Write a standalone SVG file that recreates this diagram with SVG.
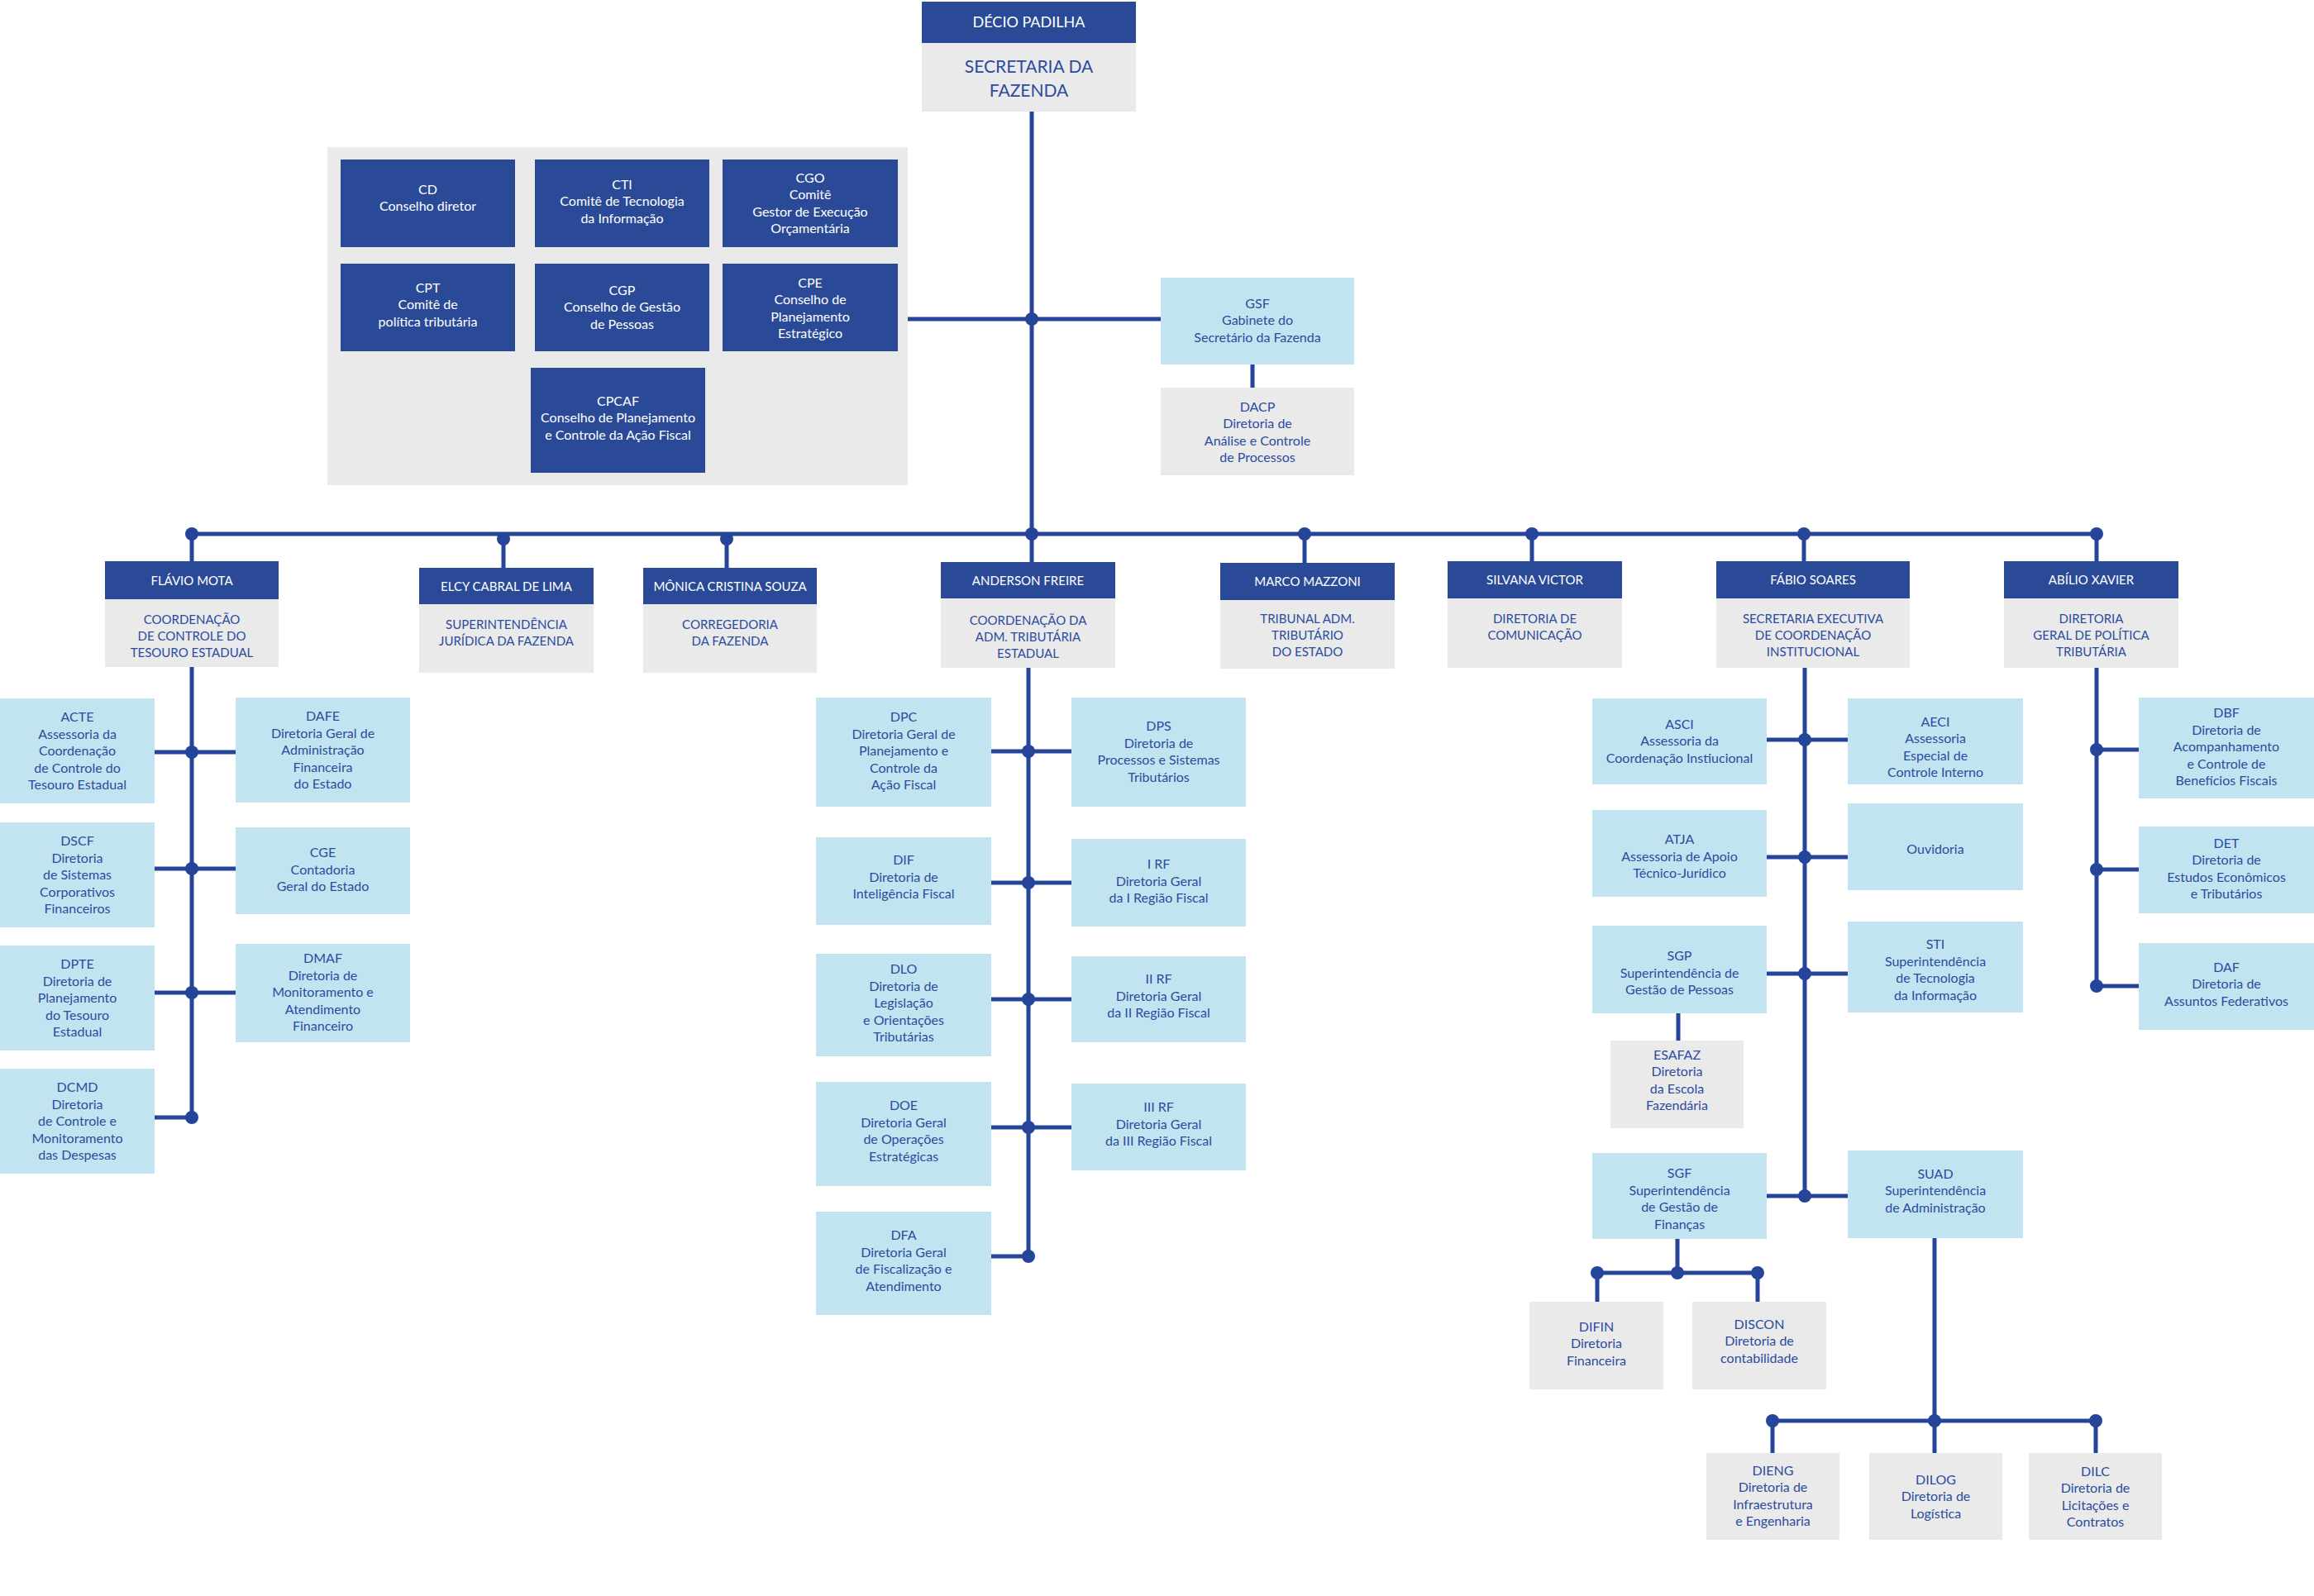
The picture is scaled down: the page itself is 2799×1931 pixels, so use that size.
<svg xmlns="http://www.w3.org/2000/svg" width="2799" height="1931" viewBox="0 0 2799 1931">
<style>
.dk{fill:#2A4A97}
.lt{fill:#C2E4F0}
.gr{fill:#EAEAEA}
text{font-family:Lato,"Open Sans",sans-serif;text-anchor:middle}
.w{fill:#FFFFFF;font-size:16px}
.t{fill:#2B4C9F;font-size:16px}
.hw{fill:#FFFFFF;font-size:15px}
.ht{fill:#2B4C9F;font-size:15px}
.ln{stroke:#25459A;stroke-width:5;fill:none}
.dot{fill:#25459A}
</style>
<rect width="2799" height="1931" fill="#FFFFFF"/>

<g id="connectors">
<path class="ln" d="M1248 135 V646 M1098 386 H1404 M1515 441 V469"/>
<path class="ln" d="M232 646 H2536"/>
<path class="ln" d="M232 646 V679 M609 652 V687 M879 652 V687 M1248 646 V680 M1578 646 V681 M1853 646 V679 M2182 646 V679 M2536 646 V679"/>
<path class="ln" d="M232 807 V1352 M187 910 H285 M187 1051 H285 M187 1201 H285 M187 1352 H232"/>
<path class="ln" d="M1244 808 V1520 M1199 909 H1296 M1199 1068 H1296 M1199 1209 H1296 M1199 1364 H1296 M1199 1520 H1244"/>
<path class="ln" d="M2183 808 V1447 M2137 895 H2235 M2137 1037 H2235 M2137 1178 H2235 M2137 1447 H2235 M2030 1226 V1259"/>
<path class="ln" d="M2029 1499 V1540 M1932 1540 H2126 M1932 1540 V1575 M2126 1540 V1575"/>
<path class="ln" d="M2340 1498 V1719 M2144 1719 H2535 M2144 1719 V1758 M2340 1719 V1758 M2535 1719 V1758"/>
<path class="ln" d="M2536 808 V1193 M2536 907 H2587 M2536 1052 H2587 M2536 1193 H2587"/>
<g class="dot">
<circle cx="1248" cy="386" r="8"/>
<circle cx="232" cy="646" r="8"/><circle cx="609" cy="652" r="8"/><circle cx="879" cy="652" r="8"/><circle cx="1248" cy="646" r="8"/><circle cx="1578" cy="646" r="8"/><circle cx="1853" cy="646" r="8"/><circle cx="2182" cy="646" r="8"/><circle cx="2536" cy="646" r="8"/>
<circle cx="232" cy="910" r="8"/><circle cx="232" cy="1051" r="8"/><circle cx="232" cy="1201" r="8"/><circle cx="232" cy="1352" r="8"/>
<circle cx="1244" cy="909" r="8"/><circle cx="1244" cy="1068" r="8"/><circle cx="1244" cy="1209" r="8"/><circle cx="1244" cy="1364" r="8"/><circle cx="1244" cy="1520" r="8"/>
<circle cx="2183" cy="895" r="8"/><circle cx="2183" cy="1037" r="8"/><circle cx="2183" cy="1178" r="8"/><circle cx="2183" cy="1447" r="8"/>
<circle cx="1932" cy="1540" r="8"/><circle cx="2029" cy="1540" r="8"/><circle cx="2126" cy="1540" r="8"/>
<circle cx="2144" cy="1719" r="8"/><circle cx="2340" cy="1719" r="8"/><circle cx="2535" cy="1719" r="8"/>
<circle cx="2536" cy="907" r="8"/><circle cx="2536" cy="1052" r="8"/><circle cx="2536" cy="1193" r="8"/>
</g>
</g>

<g id="decio">
<rect class="dk" x="1115" y="2" width="259" height="50"/>
<rect class="gr" x="1115" y="52" width="259" height="83"/>
<text class="w" x="1244.5" y="33" style="font-size:18px">DÉCIO PADILHA</text>
<text class="t" x="1244.5" y="87.5" style="font-size:21px">SECRETARIA DA<tspan x="1244.5" dy="29">FAZENDA</tspan></text>
</g>

<g id="comites">
<rect class="gr" x="396" y="178" width="702" height="409"/>
<g id="cd"><rect class="dk" x="412" y="193" width="211" height="106"/><text class="w" x="517.5" y="234.5">CD<tspan x="517.5" dy="20.5">Conselho diretor</tspan></text></g>
<g id="cti"><rect class="dk" x="647" y="193" width="211" height="106"/><text class="w" x="752.5" y="228.5">CTI<tspan x="752.5" dy="20.5">Comitê de Tecnologia</tspan><tspan x="752.5" dy="20.5">da Informação</tspan></text></g>
<g id="cgo"><rect class="dk" x="874" y="193" width="212" height="106"/><text class="w" x="980" y="220.5">CGO<tspan x="980" dy="20.5">Comitê</tspan><tspan x="980" dy="20.5">Gestor de Execução</tspan><tspan x="980" dy="20.5">Orçamentária</tspan></text></g>
<g id="cpt"><rect class="dk" x="412" y="319" width="211" height="106"/><text class="w" x="517.5" y="353.5">CPT<tspan x="517.5" dy="20.5">Comitê de</tspan><tspan x="517.5" dy="20.5">política tributária</tspan></text></g>
<g id="cgp"><rect class="dk" x="647" y="319" width="211" height="106"/><text class="w" x="752.5" y="356.5">CGP<tspan x="752.5" dy="20.5">Conselho de Gestão</tspan><tspan x="752.5" dy="20.5">de Pessoas</tspan></text></g>
<g id="cpe"><rect class="dk" x="874" y="319" width="212" height="106"/><text class="w" x="980" y="347.5">CPE<tspan x="980" dy="20.5">Conselho de</tspan><tspan x="980" dy="20.5">Planejamento</tspan><tspan x="980" dy="20.5">Estratégico</tspan></text></g>
<g id="cpcaf"><rect class="dk" x="642" y="445" width="211" height="127"/><text class="w" x="747.5" y="490.5">CPCAF<tspan x="747.5" dy="20.5">Conselho de Planejamento</tspan><tspan x="747.5" dy="20.5">e Controle da Ação Fiscal</tspan></text></g>
</g>

<g id="gsf"><rect class="lt" x="1404" y="336" width="234" height="105"/><text class="t" x="1521" y="372.5">GSF<tspan x="1521" dy="20.5">Gabinete do</tspan><tspan x="1521" dy="20.5">Secretário da Fazenda</tspan></text></g>
<g id="dacp"><rect class="gr" x="1404" y="469" width="234" height="106"/><text class="t" x="1521" y="497.5">DACP<tspan x="1521" dy="20.5">Diretoria de</tspan><tspan x="1521" dy="20.5">Análise e Controle</tspan><tspan x="1521" dy="20.5">de Processos</tspan></text></g>

<g id="flavio"><rect class="dk" x="127" y="679" width="210" height="46"/><rect class="gr" x="127" y="725" width="210" height="82"/><text class="hw" x="232" y="707.5">FLÁVIO MOTA</text><text class="ht" x="232" y="754.5">COORDENAÇÃO<tspan x="232" dy="20">DE CONTROLE DO</tspan><tspan x="232" dy="20">TESOURO ESTADUAL</tspan></text></g>
<g id="elcy"><rect class="dk" x="507" y="687" width="211" height="44"/><rect class="gr" x="507" y="731" width="211" height="83"/><text class="hw" x="612.5" y="714.5">ELCY CABRAL DE LIMA</text><text class="ht" x="612.5" y="760.5">SUPERINTENDÊNCIA<tspan x="612.5" dy="20">JURÍDICA DA FAZENDA</tspan></text></g>
<g id="monica"><rect class="dk" x="778" y="687" width="210" height="44"/><rect class="gr" x="778" y="731" width="210" height="83"/><text class="hw" x="883" y="714.5">MÔNICA CRISTINA SOUZA</text><text class="ht" x="883" y="760.5">CORREGEDORIA<tspan x="883" dy="20">DA FAZENDA</tspan></text></g>
<g id="anderson"><rect class="dk" x="1138" y="680" width="211" height="44"/><rect class="gr" x="1138" y="724" width="211" height="84"/><text class="hw" x="1243.5" y="707.5">ANDERSON FREIRE</text><text class="ht" x="1243.5" y="755.5">COORDENAÇÃO DA<tspan x="1243.5" dy="20">ADM. TRIBUTÁRIA</tspan><tspan x="1243.5" dy="20">ESTADUAL</tspan></text></g>
<g id="marco"><rect class="dk" x="1476" y="681" width="211" height="45"/><rect class="gr" x="1476" y="726" width="211" height="83"/><text class="hw" x="1581.5" y="709">MARCO MAZZONI</text><text class="ht" x="1581.5" y="753.5">TRIBUNAL ADM.<tspan x="1581.5" dy="20">TRIBUTÁRIO</tspan><tspan x="1581.5" dy="20">DO ESTADO</tspan></text></g>
<g id="silvana"><rect class="dk" x="1751" y="679" width="211" height="45"/><rect class="gr" x="1751" y="724" width="211" height="84"/><text class="hw" x="1856.5" y="707">SILVANA VICTOR</text><text class="ht" x="1856.5" y="753.5">DIRETORIA DE<tspan x="1856.5" dy="20">COMUNICAÇÃO</tspan></text></g>
<g id="fabio"><rect class="dk" x="2076" y="679" width="234" height="45"/><rect class="gr" x="2076" y="724" width="234" height="84"/><text class="hw" x="2193" y="707">FÁBIO SOARES</text><text class="ht" x="2193" y="753.5">SECRETARIA EXECUTIVA<tspan x="2193" dy="20">DE COORDENAÇÃO</tspan><tspan x="2193" dy="20">INSTITUCIONAL</tspan></text></g>
<g id="abilio"><rect class="dk" x="2424" y="679" width="211" height="45"/><rect class="gr" x="2424" y="724" width="211" height="84"/><text class="hw" x="2529.5" y="707">ABÍLIO XAVIER</text><text class="ht" x="2529.5" y="753.5">DIRETORIA<tspan x="2529.5" dy="20">GERAL DE POLÍTICA</tspan><tspan x="2529.5" dy="20">TRIBUTÁRIA</tspan></text></g>

<g id="acte"><rect class="lt" x="0" y="845" width="187" height="127"/><text class="t" x="93.5" y="873">ACTE<tspan x="93.5" dy="20.5">Assessoria da</tspan><tspan x="93.5" dy="20.5">Coordenação</tspan><tspan x="93.5" dy="20.5">de Controle do</tspan><tspan x="93.5" dy="20.5">Tesouro Estadual</tspan></text></g>
<g id="dafe"><rect class="lt" x="285" y="844" width="211" height="127"/><text class="t" x="390.5" y="872">DAFE<tspan x="390.5" dy="20.5">Diretoria Geral de</tspan><tspan x="390.5" dy="20.5">Administração</tspan><tspan x="390.5" dy="20.5">Financeira</tspan><tspan x="390.5" dy="20.5">do Estado</tspan></text></g>
<g id="dscf"><rect class="lt" x="0" y="995" width="187" height="127"/><text class="t" x="93.5" y="1023">DSCF<tspan x="93.5" dy="20.5">Diretoria</tspan><tspan x="93.5" dy="20.5">de Sistemas</tspan><tspan x="93.5" dy="20.5">Corporativos</tspan><tspan x="93.5" dy="20.5">Financeiros</tspan></text></g>
<g id="cge"><rect class="lt" x="285" y="1001" width="211" height="105"/><text class="t" x="390.5" y="1037">CGE<tspan x="390.5" dy="20.5">Contadoria</tspan><tspan x="390.5" dy="20.5">Geral do Estado</tspan></text></g>
<g id="dpte"><rect class="lt" x="0" y="1144" width="187" height="127"/><text class="t" x="93.5" y="1172">DPTE<tspan x="93.5" dy="20.5">Diretoria de</tspan><tspan x="93.5" dy="20.5">Planejamento</tspan><tspan x="93.5" dy="20.5">do Tesouro</tspan><tspan x="93.5" dy="20.5">Estadual</tspan></text></g>
<g id="dmaf"><rect class="lt" x="285" y="1142" width="211" height="119"/><text class="t" x="390.5" y="1165">DMAF<tspan x="390.5" dy="20.5">Diretoria de</tspan><tspan x="390.5" dy="20.5">Monitoramento e</tspan><tspan x="390.5" dy="20.5">Atendimento</tspan><tspan x="390.5" dy="20.5">Financeiro</tspan></text></g>
<g id="dcmd"><rect class="lt" x="0" y="1293" width="187" height="127"/><text class="t" x="93.5" y="1321">DCMD<tspan x="93.5" dy="20.5">Diretoria</tspan><tspan x="93.5" dy="20.5">de Controle e</tspan><tspan x="93.5" dy="20.5">Monitoramento</tspan><tspan x="93.5" dy="20.5">das Despesas</tspan></text></g>

<g id="dpc"><rect class="lt" x="987" y="844" width="212" height="132"/><text class="t" x="1093" y="873">DPC<tspan x="1093" dy="20.5">Diretoria Geral de</tspan><tspan x="1093" dy="20.5">Planejamento e</tspan><tspan x="1093" dy="20.5">Controle da</tspan><tspan x="1093" dy="20.5">Ação Fiscal</tspan></text></g>
<g id="dps"><rect class="lt" x="1296" y="844" width="211" height="132"/><text class="t" x="1401.5" y="884">DPS<tspan x="1401.5" dy="20.5">Diretoria de</tspan><tspan x="1401.5" dy="20.5">Processos e Sistemas</tspan><tspan x="1401.5" dy="20.5">Tributários</tspan></text></g>
<g id="dif"><rect class="lt" x="987" y="1013" width="212" height="106"/><text class="t" x="1093" y="1046">DIF<tspan x="1093" dy="20.5">Diretoria de</tspan><tspan x="1093" dy="20.5">Inteligência Fiscal</tspan></text></g>
<g id="irf"><rect class="lt" x="1296" y="1015" width="211" height="106"/><text class="t" x="1401.5" y="1051">I RF<tspan x="1401.5" dy="20.5">Diretoria Geral</tspan><tspan x="1401.5" dy="20.5">da I Região Fiscal</tspan></text></g>
<g id="dlo"><rect class="lt" x="987" y="1154" width="212" height="124"/><text class="t" x="1093" y="1178">DLO<tspan x="1093" dy="20.5">Diretoria de</tspan><tspan x="1093" dy="20.5">Legislação</tspan><tspan x="1093" dy="20.5">e Orientações</tspan><tspan x="1093" dy="20.5">Tributárias</tspan></text></g>
<g id="iirf"><rect class="lt" x="1296" y="1157" width="211" height="104"/><text class="t" x="1401.5" y="1190">II RF<tspan x="1401.5" dy="20.5">Diretoria Geral</tspan><tspan x="1401.5" dy="20.5">da II Região Fiscal</tspan></text></g>
<g id="doe"><rect class="lt" x="987" y="1309" width="212" height="126"/><text class="t" x="1093" y="1343">DOE<tspan x="1093" dy="20.5">Diretoria Geral</tspan><tspan x="1093" dy="20.5">de Operações</tspan><tspan x="1093" dy="20.5">Estratégicas</tspan></text></g>
<g id="iiirf"><rect class="lt" x="1296" y="1311" width="211" height="105"/><text class="t" x="1401.5" y="1345">III RF<tspan x="1401.5" dy="20.5">Diretoria Geral</tspan><tspan x="1401.5" dy="20.5">da III Região Fiscal</tspan></text></g>
<g id="dfa"><rect class="lt" x="987" y="1466" width="212" height="125"/><text class="t" x="1093" y="1500">DFA<tspan x="1093" dy="20.5">Diretoria Geral</tspan><tspan x="1093" dy="20.5">de Fiscalização e</tspan><tspan x="1093" dy="20.5">Atendimento</tspan></text></g>

<g id="asci"><rect class="lt" x="1926" y="845" width="211" height="104"/><text class="t" x="2031.5" y="881.5">ASCI<tspan x="2031.5" dy="20.5">Assessoria da</tspan><tspan x="2031.5" dy="20.5">Coordenação Instiucional</tspan></text></g>
<g id="aeci"><rect class="lt" x="2235" y="845" width="212" height="104"/><text class="t" x="2341" y="878.5">AECI<tspan x="2341" dy="20.5">Assessoria</tspan><tspan x="2341" dy="20.5">Especial de</tspan><tspan x="2341" dy="20.5">Controle Interno</tspan></text></g>
<g id="atja"><rect class="lt" x="1926" y="980" width="211" height="105"/><text class="t" x="2031.5" y="1021">ATJA<tspan x="2031.5" dy="20.5">Assessoria de Apoio</tspan><tspan x="2031.5" dy="20.5">Técnico-Jurídico</tspan></text></g>
<g id="ouvidoria"><rect class="lt" x="2235" y="972" width="212" height="105"/><text class="t" x="2341" y="1033">Ouvidoria</text></g>
<g id="sgp"><rect class="lt" x="1926" y="1120" width="211" height="106"/><text class="t" x="2031.5" y="1162">SGP<tspan x="2031.5" dy="20.5">Superintendência de</tspan><tspan x="2031.5" dy="20.5">Gestão de Pessoas</tspan></text></g>
<g id="sti"><rect class="lt" x="2235" y="1115" width="212" height="110"/><text class="t" x="2341" y="1148">STI<tspan x="2341" dy="20.5">Superintendência</tspan><tspan x="2341" dy="20.5">de Tecnologia</tspan><tspan x="2341" dy="20.5">da Informação</tspan></text></g>
<g id="esafaz"><rect class="gr" x="1948" y="1259" width="161" height="106"/><text class="t" x="2028.5" y="1281.5">ESAFAZ<tspan x="2028.5" dy="20.5">Diretoria</tspan><tspan x="2028.5" dy="20.5">da Escola</tspan><tspan x="2028.5" dy="20.5">Fazendária</tspan></text></g>
<g id="sgf"><rect class="lt" x="1926" y="1395" width="211" height="104"/><text class="t" x="2031.5" y="1425">SGF<tspan x="2031.5" dy="20.5">Superintendência</tspan><tspan x="2031.5" dy="20.5">de Gestão de</tspan><tspan x="2031.5" dy="20.5">Finanças</tspan></text></g>
<g id="suad"><rect class="lt" x="2235" y="1392" width="212" height="106"/><text class="t" x="2341" y="1425.5">SUAD<tspan x="2341" dy="20.5">Superintendência</tspan><tspan x="2341" dy="20.5">de Administração</tspan></text></g>
<g id="difin"><rect class="gr" x="1850" y="1575" width="162" height="106"/><text class="t" x="1931" y="1610.5">DIFIN<tspan x="1931" dy="20.5">Diretoria</tspan><tspan x="1931" dy="20.5">Financeira</tspan></text></g>
<g id="discon"><rect class="gr" x="2047" y="1575" width="162" height="106"/><text class="t" x="2128" y="1607.5">DISCON<tspan x="2128" dy="20.5">Diretoria de</tspan><tspan x="2128" dy="20.5">contabilidade</tspan></text></g>
<g id="dieng"><rect class="gr" x="2064" y="1758" width="161" height="105"/><text class="t" x="2144.5" y="1784.5">DIENG<tspan x="2144.5" dy="20.5">Diretoria de</tspan><tspan x="2144.5" dy="20.5">Infraestrutura</tspan><tspan x="2144.5" dy="20.5">e Engenharia</tspan></text></g>
<g id="dilog"><rect class="gr" x="2261" y="1758" width="161" height="105"/><text class="t" x="2341.5" y="1795.5">DILOG<tspan x="2341.5" dy="20.5">Diretoria de</tspan><tspan x="2341.5" dy="20.5">Logística</tspan></text></g>
<g id="dilc"><rect class="gr" x="2454" y="1758" width="161" height="105"/><text class="t" x="2534.5" y="1785.5">DILC<tspan x="2534.5" dy="20.5">Diretoria de</tspan><tspan x="2534.5" dy="20.5">Licitações e</tspan><tspan x="2534.5" dy="20.5">Contratos</tspan></text></g>

<g id="dbf"><rect class="lt" x="2587" y="844" width="212" height="122"/><text class="t" x="2693" y="868">DBF<tspan x="2693" dy="20.5">Diretoria de</tspan><tspan x="2693" dy="20.5">Acompanhamento</tspan><tspan x="2693" dy="20.5">e Controle de</tspan><tspan x="2693" dy="20.5">Benefícios Fiscais</tspan></text></g>
<g id="det"><rect class="lt" x="2587" y="1000" width="212" height="105"/><text class="t" x="2693" y="1025.5">DET<tspan x="2693" dy="20.5">Diretoria de</tspan><tspan x="2693" dy="20.5">Estudos Econômicos</tspan><tspan x="2693" dy="20.5">e Tributários</tspan></text></g>
<g id="daf"><rect class="lt" x="2587" y="1141" width="212" height="105"/><text class="t" x="2693" y="1175.5">DAF<tspan x="2693" dy="20.5">Diretoria de</tspan><tspan x="2693" dy="20.5">Assuntos Federativos</tspan></text></g>
</svg>
